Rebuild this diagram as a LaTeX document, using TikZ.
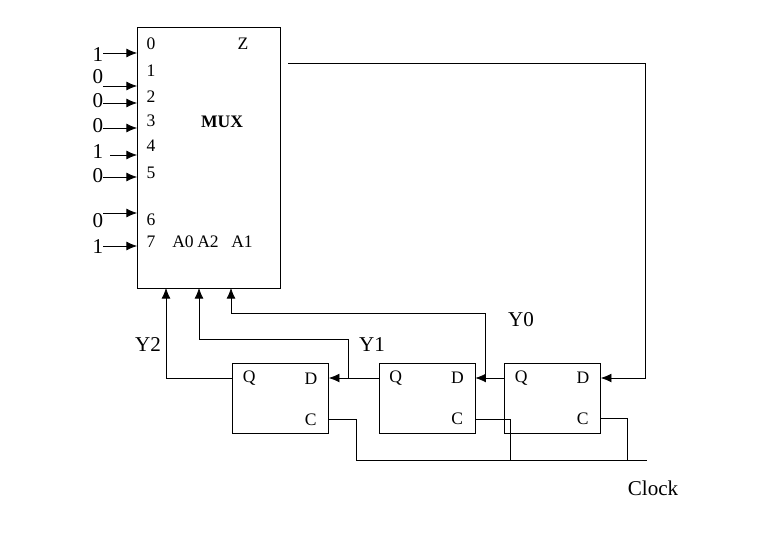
\documentclass[tikz,border=0pt]{standalone}
\usepackage{fontspec}
\setmainfont{Liberation Serif}
\usetikzlibrary{calc,arrows.meta}
\begin{document}
\begin{tikzpicture}[x=0.02cm,y=-0.02cm,font=\large,
    ff/.style={draw,minimum width=1.92cm,minimum height=1.4cm,inner sep=0pt},
    pin/.style={inner sep=1pt,font=\normalsize},
    arr/.style={-{Latex[length=6pt,width=5pt]}}]
    \useasboundingbox (0,0) rectangle (766,547);
    % Draw the multiplexer
    \node[draw,minimum width=2.86cm,minimum height=5.22cm,inner sep=0pt] (mux) at (208.5,157.5) {};
    \node[font=\normalsize\bfseries] at (222,122) {MUX};
    \node[pin] (z) at (243,44) {Z};
    \foreach \n/\y in {0/44,1/71,2/97,3/121,4/146,5/173,6/220,7/242}
        \node[pin] (p\n) at (151,\y) {\n};
    \node[pin] (a0) at (183,242) {A0};
    \node[pin] (a2) at (208,242) {A2};
    \node[pin] (a1) at (242,242) {A1};
    % Constant inputs
    \foreach \v/\ly/\ay/\sx in {1/55/53/103,0/77/86/103,0/101/103/103,0/126/128/103,1/152/155/110,0/176/177/103,0/221/213/103,1/247/246/103}{
        \node[inner sep=0pt] at (98,\ly) {\v};
        \draw[arr] (\sx,\ay) -- (137,\ay);
    }
    % Flip-flops
    \node[ff] (ffa) at (280.5,398.5) {};
    \node[ff] (ffb) at (427,398) {};
    \node[ff] (ffc) at (552.5,398) {};
    \foreach \f in {ffa,ffb,ffc}{
        \node[pin] at ($(\f.west)+(17,-20)$) {Q};
        \node[pin] at ($(\f.east)+(-18,-20)$) {D};
        \node[pin] at ($(\f.east)+(-18,21)$) {C};
    }
    % Feedback from Z
    \coordinate (zr) at (645,63);
    \draw[arr] (288,63) -- (zr) -- (645,378) -- (ffc.east |- 0,378);
    % Shift chain
    \draw[arr] (ffc.west |- 0,378) -- (ffb.east |- 0,378);
    \draw[arr] (ffb.west |- 0,378) -- (ffa.east |- 0,378);
    \draw[arr] (485,378) -- (485,313) -- (231,313) -- (231,288);
    \draw[arr] (348,378) -- (348,339) -- (199,339) -- (199,288);
    \draw[arr] (ffa.west |- 0,378) -- (166,378) -- (166,288);
    \node at (521,320) {Y0};
    \node at (372,345) {Y1};
    \node at (148,345) {Y2};
    % Clock line
    \draw (ffa.east |- 0,419) -- (356,419) -- (356,460) -- (647,460);
    \draw (ffb.east |- 0,419) -- (510,419) -- (510,460);
    \draw (ffc.east |- 0,418) -- (627,418) -- (627,460);
    \node at (653,488) {Clock};
\end{tikzpicture}
\end{document}
